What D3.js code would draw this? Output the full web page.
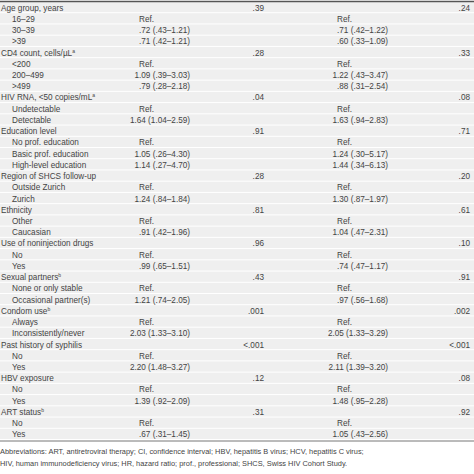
<!DOCTYPE html><html><head><meta charset="utf-8">
<script src="https://cdn.jsdelivr.net/npm/d3@7"></script>
<style>body{margin:0;background:#fff}</style></head><body><svg id="c" width="474" height="474"></svg>
<script>
const labels=["Age group, years","16–29","30–39",">39","CD4 count, cells/µL|a","<200","200–499",">499","HIV RNA, <50 copies/mL|a","Undetectable","Detectable","Education level","No prof. education","Basic prof. education","High-level education","Region of SHCS follow-up","Outside Zurich","Zurich","Ethnicity","Other","Caucasian","Use of noninjection drugs","No","Yes","Sexual partners|b","None or only stable","Occasional partner(s)","Condom use|b","Always","Inconsistently/never","Past history of syphilis","No","Yes","HBV exposure","No","Yes","ART status|b","No","Yes"];
const isHeader=[1,0,0,0,1,0,0,0,1,0,0,1,0,0,0,1,0,0,1,0,0,1,0,0,1,0,0,1,0,0,1,0,0,1,0,0,1,0,0];
const hr1=["","Ref.",".72 (.43–1.21)",".71 (.42–1.21)","","Ref.","1.09 (.39–3.03)",".79 (.28–2.18)","","Ref.","1.64 (1.04–2.59)","","Ref.","1.05 (.26–4.30)","1.14 (.27–4.70)","","Ref.","1.24 (.84–1.84)","","Ref.",".91 (.42–1.96)","","Ref.",".99 (.65–1.51)","","Ref.","1.21 (.74–2.05)","","Ref.","2.03 (1.33–3.10)","","Ref.","2.20 (1.48–3.27)","","Ref.","1.39 (.92–2.09)","","Ref.",".67 (.31–1.45)"];
const p1=[".39","","","",".28","","","",".04","","",".91","","","",".28","","",".81","","",".96","","",".43","","",".001","","","<.001","","",".12","","",".31","",""];
const hr2=["","Ref.",".71 (.42–1.22)",".60 (.33–1.09)","","Ref.","1.22 (.43–3.47)",".88 (.31–2.54)","","Ref.","1.63 (.94–2.83)","","Ref.","1.24 (.30–5.17)","1.44 (.34–6.13)","","Ref.","1.30 (.87–1.97)","","Ref.","1.04 (.47–2.31)","","Ref.",".74 (.47–1.17)","","Ref.",".97 (.56–1.68)","","Ref.","2.05 (1.33–3.29)","","Ref.","2.11 (1.39–3.20)","","Ref.","1.48 (.95–2.28)","","Ref.","1.05 (.43–2.56)"];
const p2=[".24","","","",".33","","","",".08","","",".71","","","",".20","","",".61","","",".10","","",".91","","",".002","","","<.001","","",".08","","",".92","",""];
const footnote=["Abbreviations: ART, antiretroviral therapy; CI, confidence interval; HBV, hepatitis B virus; HCV, hepatitis C virus;","HIV, human immunodeficiency virus; HR, hazard ratio; prof., professional; SHCS, Swiss HIV Cohort Study."];

const svg=d3.select("#c");
const y=d3.scaleBand().domain(d3.range(labels.length)).range([2,440]).padding(0);
const F="Liberation Sans, Arial, sans-serif", col="#444";
const g=svg.append("g").selectAll("g").data(labels).join("g").attr("transform",(d,i)=>`translate(0,${y(i)})`);
g.append("rect").attr("x",0).attr("width",474).attr("height",y.bandwidth()-1).attr("fill","#efefef");
const ty=y.bandwidth()/2+3;
const t=g.append("text").attr("x",(d,i)=>isHeader[i]?1:12).attr("y",ty).attr("font-family",F).attr("font-size",8.2).attr("fill",col);
t.text(d=>d.split("|")[0]);
t.filter(d=>d.includes("|")).append("tspan").attr("font-size",5).attr("dy",-3).text(d=>d.split("|")[1]);
function colText(arr,xR,xRef){
 g.append("text").attr("y",ty).attr("font-family",F).attr("font-size",8.2).attr("fill",col)
  .attr("x",(d,i)=>arr[i]==="Ref."?xRef:xR).attr("text-anchor",(d,i)=>arr[i]==="Ref."?"start":"end").text((d,i)=>arr[i]);
}
colText(hr1,190,139);colText(hr2,388,337);
g.append("text").attr("y",ty).attr("x",264).attr("text-anchor","end").attr("font-family",F).attr("font-size",8.2).attr("fill",col).text((d,i)=>p1[i]);
g.append("text").attr("y",ty).attr("x",470).attr("text-anchor","end").attr("font-family",F).attr("font-size",8.2).attr("fill",col).text((d,i)=>p2[i]);
svg.append("line").attr("x1",0).attr("x2",474).attr("y1",1.5).attr("y2",1.5).attr("stroke","#555").attr("stroke-width",1.5);
svg.append("line").attr("x1",0).attr("x2",474).attr("y1",441).attr("y2",441).attr("stroke","#777").attr("stroke-width",1);
svg.selectAll(".fn").data(footnote).join("text").attr("x",0).attr("y",(d,i)=>454+i*12).attr("font-family",F).attr("font-size",7.4).attr("fill",col).text(d=>d);
</script></body></html>
